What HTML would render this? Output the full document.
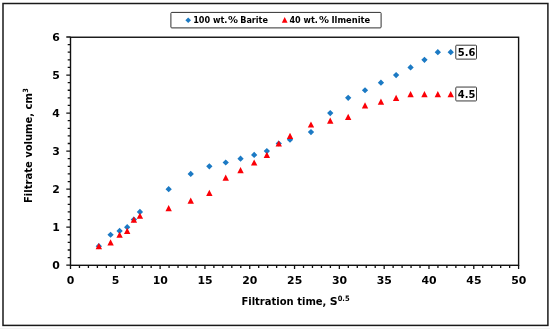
<!DOCTYPE html>
<html lang="en"><head><meta charset="utf-8"><title>Filtrate volume vs filtration time</title>
<style>html,body{margin:0;padding:0;background:#fff}body{width:550px;height:329px;overflow:hidden}svg{display:block}text{font-family:"DejaVu Sans Condensed","DejaVu Sans","Liberation Sans",sans-serif;font-weight:bold;fill:#000}</style></head><body>
<svg width="550" height="329" viewBox="0 0 550 329">
<rect x="0" y="0" width="550" height="329" fill="#fff"/>
<rect x="0" y="328" width="550" height="1" fill="#f3f3f3"/>
<rect x="3" y="3.5" width="544.9" height="321.9" fill="none" stroke="#1a1a1a" stroke-width="1.5"/>
<rect x="70.50" y="37.25" width="448.10" height="228.05" fill="none" stroke="#111" stroke-width="1.4"/>
<path d="M70.50 265.20v3.9M79.46 265.20v2.8M88.42 265.20v2.8M97.39 265.20v2.8M106.35 265.20v2.8M115.31 265.20v3.9M124.27 265.20v2.8M133.23 265.20v2.8M142.20 265.20v2.8M151.16 265.20v2.8M160.12 265.20v3.9M169.08 265.20v2.8M178.04 265.20v2.8M187.01 265.20v2.8M195.97 265.20v2.8M204.93 265.20v3.9M213.89 265.20v2.8M222.85 265.20v2.8M231.82 265.20v2.8M240.78 265.20v2.8M249.74 265.20v3.9M258.70 265.20v2.8M267.66 265.20v2.8M276.63 265.20v2.8M285.59 265.20v2.8M294.55 265.20v3.9M303.51 265.20v2.8M312.47 265.20v2.8M321.44 265.20v2.8M330.40 265.20v2.8M339.36 265.20v3.9M348.32 265.20v2.8M357.28 265.20v2.8M366.25 265.20v2.8M375.21 265.20v2.8M384.17 265.20v3.9M393.13 265.20v2.8M402.09 265.20v2.8M411.06 265.20v2.8M420.02 265.20v2.8M428.98 265.20v3.9M437.94 265.20v2.8M446.90 265.20v2.8M455.87 265.20v2.8M464.83 265.20v2.8M473.79 265.20v3.9M482.75 265.20v2.8M491.71 265.20v2.8M500.68 265.20v2.8M509.64 265.20v2.8M518.60 265.20v3.9M70.50 265.20h-4.2M70.50 257.59h-2.8M70.50 249.99h-2.8M70.50 242.38h-2.8M70.50 234.77h-2.8M70.50 227.17h-4.2M70.50 219.56h-2.8M70.50 211.95h-2.8M70.50 204.35h-2.8M70.50 196.74h-2.8M70.50 189.13h-4.2M70.50 181.53h-2.8M70.50 173.92h-2.8M70.50 166.31h-2.8M70.50 158.71h-2.8M70.50 151.10h-4.2M70.50 143.49h-2.8M70.50 135.89h-2.8M70.50 128.28h-2.8M70.50 120.67h-2.8M70.50 113.07h-4.2M70.50 105.46h-2.8M70.50 97.85h-2.8M70.50 90.25h-2.8M70.50 82.64h-2.8M70.50 75.03h-4.2M70.50 67.43h-2.8M70.50 59.82h-2.8M70.50 52.21h-2.8M70.50 44.61h-2.8M70.50 37.00h-4.2" stroke="#111" stroke-width="1.3" fill="none"/>
<g font-size="11" text-anchor="middle">
<text transform="translate(70.60 284.2) scale(1.1 1)">0</text>
<text transform="translate(115.41 284.2) scale(1.1 1)">5</text>
<text transform="translate(160.22 284.2) scale(1.1 1)">10</text>
<text transform="translate(205.03 284.2) scale(1.1 1)">15</text>
<text transform="translate(249.84 284.2) scale(1.1 1)">20</text>
<text transform="translate(294.65 284.2) scale(1.1 1)">25</text>
<text transform="translate(339.46 284.2) scale(1.1 1)">30</text>
<text transform="translate(384.27 284.2) scale(1.1 1)">35</text>
<text transform="translate(429.08 284.2) scale(1.1 1)">40</text>
<text transform="translate(473.89 284.2) scale(1.1 1)">45</text>
<text transform="translate(518.70 284.2) scale(1.1 1)">50</text>
</g>
<g font-size="11" text-anchor="end">
<text transform="translate(59.7 269.10) scale(1.1 1)">0</text>
<text transform="translate(59.7 231.07) scale(1.1 1)">1</text>
<text transform="translate(59.7 193.03) scale(1.1 1)">2</text>
<text transform="translate(59.7 155.00) scale(1.1 1)">3</text>
<text transform="translate(59.7 116.97) scale(1.1 1)">4</text>
<text transform="translate(59.7 78.93) scale(1.1 1)">5</text>
<text transform="translate(59.7 40.90) scale(1.1 1)">6</text>
</g>
<path d="M98.84 243.08l3.15 3.1l-3.15 3.1l-3.15 -3.1zM110.58 231.67l3.15 3.1l-3.15 3.1l-3.15 -3.1zM119.59 227.87l3.15 3.1l-3.15 3.1l-3.15 -3.1zM127.18 224.07l3.15 3.1l-3.15 3.1l-3.15 -3.1zM133.87 216.46l3.15 3.1l-3.15 3.1l-3.15 -3.1zM139.92 208.85l3.15 3.1l-3.15 3.1l-3.15 -3.1zM168.67 186.03l3.15 3.1l-3.15 3.1l-3.15 -3.1zM190.74 170.82l3.15 3.1l-3.15 3.1l-3.15 -3.1zM209.34 163.21l3.15 3.1l-3.15 3.1l-3.15 -3.1zM225.73 159.41l3.15 3.1l-3.15 3.1l-3.15 -3.1zM240.54 155.61l3.15 3.1l-3.15 3.1l-3.15 -3.1zM254.17 151.80l3.15 3.1l-3.15 3.1l-3.15 -3.1zM266.85 148.00l3.15 3.1l-3.15 3.1l-3.15 -3.1zM278.76 140.39l3.15 3.1l-3.15 3.1l-3.15 -3.1zM290.02 136.59l3.15 3.1l-3.15 3.1l-3.15 -3.1zM310.98 128.98l3.15 3.1l-3.15 3.1l-3.15 -3.1zM330.24 109.97l3.15 3.1l-3.15 3.1l-3.15 -3.1zM348.18 94.75l3.15 3.1l-3.15 3.1l-3.15 -3.1zM365.02 87.15l3.15 3.1l-3.15 3.1l-3.15 -3.1zM380.95 79.54l3.15 3.1l-3.15 3.1l-3.15 -3.1zM396.11 71.93l3.15 3.1l-3.15 3.1l-3.15 -3.1zM410.58 64.33l3.15 3.1l-3.15 3.1l-3.15 -3.1zM424.47 56.72l3.15 3.1l-3.15 3.1l-3.15 -3.1zM437.83 49.11l3.15 3.1l-3.15 3.1l-3.15 -3.1zM450.73 49.11l3.15 3.1l-3.15 3.1l-3.15 -3.1z" fill="#1c7ac4"/>
<path d="M98.84 243.08l3.2 6.2h-6.4zM110.58 239.28l3.2 6.2h-6.4zM119.59 231.67l3.2 6.2h-6.4zM127.18 227.87l3.2 6.2h-6.4zM133.87 216.46l3.2 6.2h-6.4zM139.92 212.66l3.2 6.2h-6.4zM168.67 205.05l3.2 6.2h-6.4zM190.74 197.44l3.2 6.2h-6.4zM209.34 189.84l3.2 6.2h-6.4zM225.73 174.62l3.2 6.2h-6.4zM240.54 167.02l3.2 6.2h-6.4zM254.17 159.41l3.2 6.2h-6.4zM266.85 151.80l3.2 6.2h-6.4zM278.76 140.39l3.2 6.2h-6.4zM290.02 132.79l3.2 6.2h-6.4zM310.98 121.38l3.2 6.2h-6.4zM330.24 117.57l3.2 6.2h-6.4zM348.18 113.77l3.2 6.2h-6.4zM365.02 102.36l3.2 6.2h-6.4zM380.95 98.56l3.2 6.2h-6.4zM396.11 94.75l3.2 6.2h-6.4zM410.58 90.95l3.2 6.2h-6.4zM424.47 90.95l3.2 6.2h-6.4zM437.83 90.95l3.2 6.2h-6.4zM450.73 90.95l3.2 6.2h-6.4z" fill="#fb0007"/>
<rect x="455.8" y="45.21" width="20.7" height="13.9" fill="#fff" stroke="#3a3a3a" stroke-width="1" rx="0.8"/>
<text x="466.6" y="56.41" font-size="11" text-anchor="middle">5.6</text>
<rect x="455.8" y="87.05" width="20.7" height="13.9" fill="#fff" stroke="#3a3a3a" stroke-width="1" rx="0.8"/>
<text x="466.6" y="98.25" font-size="11" text-anchor="middle">4.5</text>
<rect x="170.9" y="12.4" width="210.2" height="15.5" fill="#fff" stroke="#303030" stroke-width="1" rx="0.9"/>
<path d="M188.2 17.5l2.8 2.7l-2.8 2.7l-2.8 -2.7z" fill="#1c7ac4"/>
<text x="193.2" y="23.3" font-size="9">100 wt.<tspan x="227.9" textLength="10" lengthAdjust="spacingAndGlyphs">%</tspan><tspan x="237.4"> Barite</tspan></text>
<path d="M284.7 17l2.9 5.8h-5.8z" fill="#fb0007"/>
<text x="289.4" y="23.3" font-size="9">40 wt.<tspan x="318.9" textLength="10" lengthAdjust="spacingAndGlyphs">%</tspan><tspan x="328.8"> </tspan><tspan x="331.5" textLength="38.6" lengthAdjust="spacingAndGlyphs">Ilmenite</tspan></text>
<text transform="translate(241.4 304.6) scale(1.012 1)" font-size="11">Filtration time, <tspan x="87.3" textLength="7.8" lengthAdjust="spacingAndGlyphs">S</tspan><tspan x="95.1" font-size="7.4" dy="-3.2">0.5</tspan></text>
<text transform="translate(32 203) rotate(-90) scale(1.012 1)" font-size="11">Filtrate volume, cm<tspan font-size="7.2" dy="-4" dx="0.3">3</tspan></text>
</svg></body></html>
